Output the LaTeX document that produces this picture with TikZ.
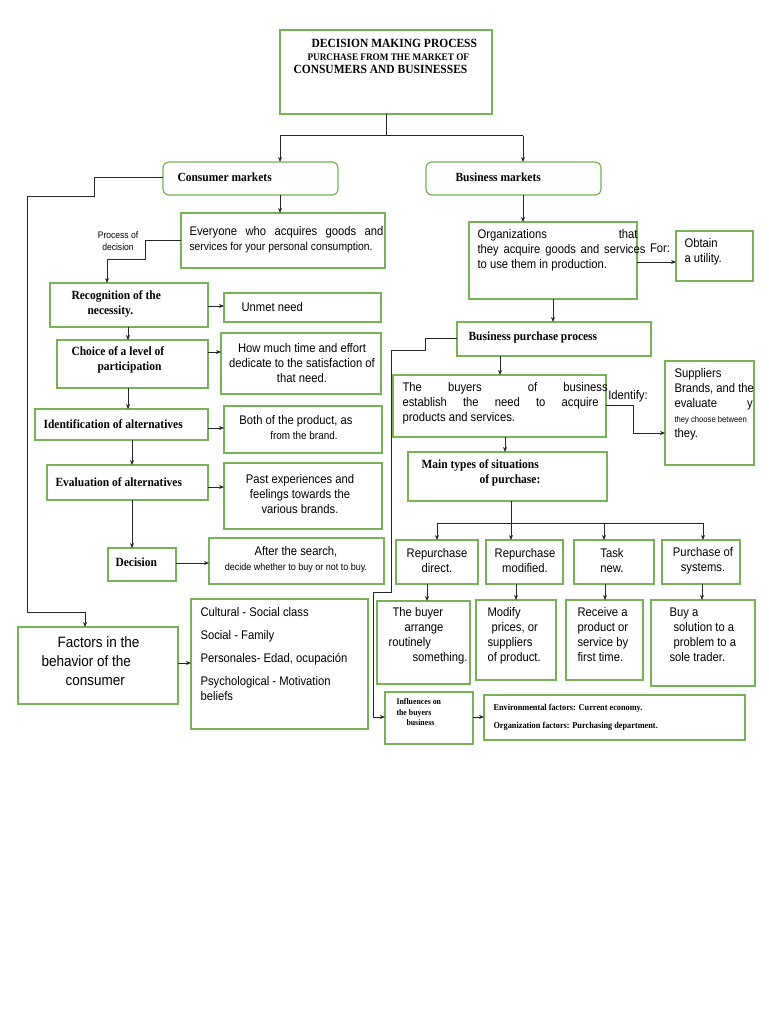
\documentclass[tikz,border=0pt]{standalone}
\usepackage{fontspec}
\setmainfont{Liberation Serif}[FakeStretch=0.92]
\newfontfamily\sansf{Liberation Sans}[FakeStretch=0.9]
\usetikzlibrary{arrows.meta}
\definecolor{bx}{HTML}{77B255}
\begin{document}
\begin{tikzpicture}[x=1pt,y=-1pt,
  box/.style={draw=bx,line width=1.2pt,inner sep=0pt},
  ln/.style={draw=black!85,line width=1pt},
  ar/.style={ln,-{Stealth[length=5pt,width=4pt]}},
  t/.style={font=\sansf\fontsize{12.5}{15}\selectfont,align=left},
  b/.style={font=\bfseries\fontsize{12.5}{15}\selectfont,align=left}]
\useasboundingbox (0,0) rectangle (768,1024);
% boxes
\draw[box] (280,30) rectangle (492,114);
\node[b,align=left,anchor=north west] (tt) at (290,36) {\hspace{18pt}{\fontsize{12.5}{15}\selectfont DECISION MAKING PROCESS}\\[-2pt]\hspace{14pt}{\fontsize{10}{13}\selectfont PURCHASE FROM THE MARKET OF}\\[-2pt]{\fontsize{12.5}{15}\selectfont CONSUMERS AND BUSINESSES}};
\draw[box,rounded corners=6pt] (163,162) rectangle (338,195);
\node[b,anchor=west] (cm) at (174,177) {Consumer markets};
\draw[box,rounded corners=6pt] (426,162) rectangle (601,195);
\node[b,anchor=west] (bm) at (452,177) {Business markets};
\draw[box] (181,213) rectangle (385,268);
\node[t,anchor=west] (ev) at (186,240) {\makebox[194pt][s]{Everyone who acquires goods and}\\\fontsize{11.5}{14}\selectfont services for your personal consumption.};
\draw[box] (469,222) rectangle (637,299);
\node[t,anchor=north west] (org) at (474,226) {\makebox[160pt][s]{Organizations\hfill that}\\\makebox[168pt][s]{they acquire goods and services}\\to use them in production.};
\node[t] (for) at (660,248) {For:};
\draw[box] (676,231) rectangle (753,281);
\node[t,anchor=north west] (obt) at (681,235) {Obtain\\a utility.};
\node[font=\sansf\fontsize{9.5}{12}\selectfont,align=center] (pod) at (118,241) {Process of\\decision};
\draw[box] (50,283) rectangle (208,327);
\node[b,anchor=north west] (rec) at (68,287) {Recognition of the\\\hspace{16pt}necessity.};
\draw[box] (224,293) rectangle (381,322);
\node[t,anchor=west] (un) at (238,307) {Unmet need};
\draw[box] (57,340) rectangle (208,388);
\node[b,anchor=north west] (cho) at (68,343) {Choice of a level of\\\hspace{26pt}participation};
\draw[box] (221,333) rectangle (381,394);
\node[t,align=center] (hm) at (302,363) {How much time and effort\\dedicate to the satisfaction of\\that need.};
\draw[box] (35,409) rectangle (208,440);
\node[b,anchor=west] (idn) at (40,424) {Identification of alternatives};
\draw[box] (224,406) rectangle (382,453);
\node[t,align=center] (both) at (296,428) {Both of the product, as\\\hspace{16pt}\fontsize{11}{13}\selectfont from the brand.};
\draw[box] (47,465) rectangle (208,500);
\node[b,anchor=west] (eva) at (52,482) {Evaluation of alternatives};
\draw[box] (224,463) rectangle (382,529);
\node[t,align=center] (past) at (300,494) {Past experiences and\\feelings towards the\\various brands.};
\draw[box] (108,548) rectangle (176,581);
\node[b,anchor=west] (dec) at (112,562) {Decision};
\draw[box] (209,538) rectangle (384,584);
\node[t,align=center] (aft) at (296,560) {After the search,\\\fontsize{10}{12}\selectfont decide whether to buy or not to buy.};
\draw[box] (18,627) rectangle (178,704);
\node[t,font=\sansf\fontsize{15}{19}\selectfont,anchor=north west] (fac) at (38,633) {\hspace{16pt}Factors in the\\behavior of the\\\hspace{24pt}consumer};
\draw[box] (191,599) rectangle (368,729);
\node[t,anchor=north west] (cul) at (197,604) {Cultural - Social class\\[8pt]Social - Family\\[8pt]Personales- Edad, ocupación\\[8pt]Psychological - Motivation\\beliefs};
\draw[box] (457,322) rectangle (651,356);
\node[b,anchor=west] (bpp) at (465,337) {Business purchase process};
\draw[box] (393,375) rectangle (606,437);
\node[t,anchor=north west] (buy) at (399,379) {\makebox[200pt][s]{The\hspace{24pt} buyers\hspace{44pt} of\hspace{24pt} business}\\\makebox[196pt][s]{establish the need to acquire}\\products and services.};
\node[t] (idf) at (628,396) {Identify:};
\draw[box] (665,361) rectangle (754,465);
\node[t,anchor=north west] (sup) at (671,365) {Suppliers\\Brands, and the\\evaluate\hspace{30pt}y\\{\fontsize{8.5}{11}\selectfont they choose between}\\they.};
\draw[box] (408,452) rectangle (607,501);
\node[b,anchor=north west] (mt) at (418,456) {Main types of situations\\\hspace{58pt}of purchase:};
\draw[box] (396,540) rectangle (478,584);
\node[t,align=center] (r1) at (437,561) {Repurchase\\direct.};
\draw[box] (486,540) rectangle (563,584);
\node[t,align=center] (r2) at (525,561) {Repurchase\\modified.};
\draw[box] (574,540) rectangle (654,584);
\node[t,align=center] (r3) at (612,561) {Task\\new.};
\draw[box] (662,540) rectangle (740,584);
\node[t,align=center] (r4) at (703,561) {Purchase of\\systems.};
\draw[box] (377,601) rectangle (470,684);
\node[t,anchor=north west] (s1) at (385,604) {\hspace{4pt}The buyer\\\hspace{16pt}arrange\\routinely\\\hspace{24pt}something.};
\draw[box] (476,600) rectangle (556,680);
\node[t,anchor=north west] (s2) at (484,604) {Modify\\\hspace{4pt}prices, or\\suppliers\\of product.};
\draw[box] (566,600) rectangle (643,680);
\node[t,anchor=north west] (s3) at (574,604) {Receive a\\product or\\service by\\first time.};
\draw[box] (651,600) rectangle (755,686);
\node[t,anchor=north west] (s4) at (666,604) {Buy a\\\hspace{4pt}solution to a\\\hspace{4pt}problem to a\\sole trader.};
\draw[box] (385,692) rectangle (473,744);
\node[b,font=\bfseries\fontsize{8.5}{10.5}\selectfont,anchor=north west] (inf) at (393,695) {Influences on\\the buyers\\\hspace{10pt}business};
\draw[box] (484,695) rectangle (745,740);
\node[b,font=\bfseries\fontsize{9}{11}\selectfont,anchor=west] (env) at (490,717) {Environmental factors: Current economy.\\[7pt]Organization factors: Purchasing department.};
% connectors
\draw[ln] (386,114) -- (386,136) coordinate (tj);
\draw[ln] (280,136) -- (523,136);
\draw[ar] (280,136) -- (280,162);
\draw[ar] (523,136) -- (523,162);
\draw[ar] (280,195) -- (280,213);
\draw[ar] (523,195) -- (523,222);
\draw[ar] (637,262) -- (676,262);
\draw[ar] (553,299) -- (553,322);
\draw[ln] (163,178) -- (94,178) -- (94,197) -- (27,197) -- (27,612) -- (85,612);
\draw[ar] (85,612) -- (85,627);
\draw[ln] (181,240) -- (145,240) -- (145,259) -- (107,259);
\draw[ar] (107,259) -- (107,283);
\draw[ar] (128,327) -- (128,340);
\draw[ar] (128,388) -- (128,409);
\draw[ar] (132,440) -- (132,465);
\draw[ar] (132,500) -- (132,548);
\draw[ar] (208,306) -- (224,306);
\draw[ar] (208,352) -- (221,352);
\draw[ar] (208,428) -- (224,428);
\draw[ar] (208,487) -- (224,487);
\draw[ar] (176,563) -- (209,563);
\draw[ar] (178,663) -- (191,663);
\draw[ln] (457,338) -- (425,338) -- (425,350) -- (391,350) -- (391,592) -- (373,592) -- (373,717);
\draw[ar] (373,717) -- (385,717);
\draw[ar] (473,717) -- (484,717);
\draw[ar] (500,356) -- (500,375);
\draw[ar] (505,437) -- (505,452);
\draw[ln] (606,405) -- (633,405) -- (633,433);
\draw[ar] (633,433) -- (665,433);
\draw[ln] (511,501) -- (511,523);
\draw[ln] (437,523) -- (703,523);
\draw[ar] (437,523) -- (437,540);
\draw[ar] (511,523) -- (511,540);
\draw[ar] (604,523) -- (604,540);
\draw[ar] (703,523) -- (703,540);
\draw[ar] (427,584) -- (427,601);
\draw[ar] (516,584) -- (516,600);
\draw[ar] (605,584) -- (605,600);
\draw[ar] (702,584) -- (702,600);
\end{tikzpicture}
\end{document}
